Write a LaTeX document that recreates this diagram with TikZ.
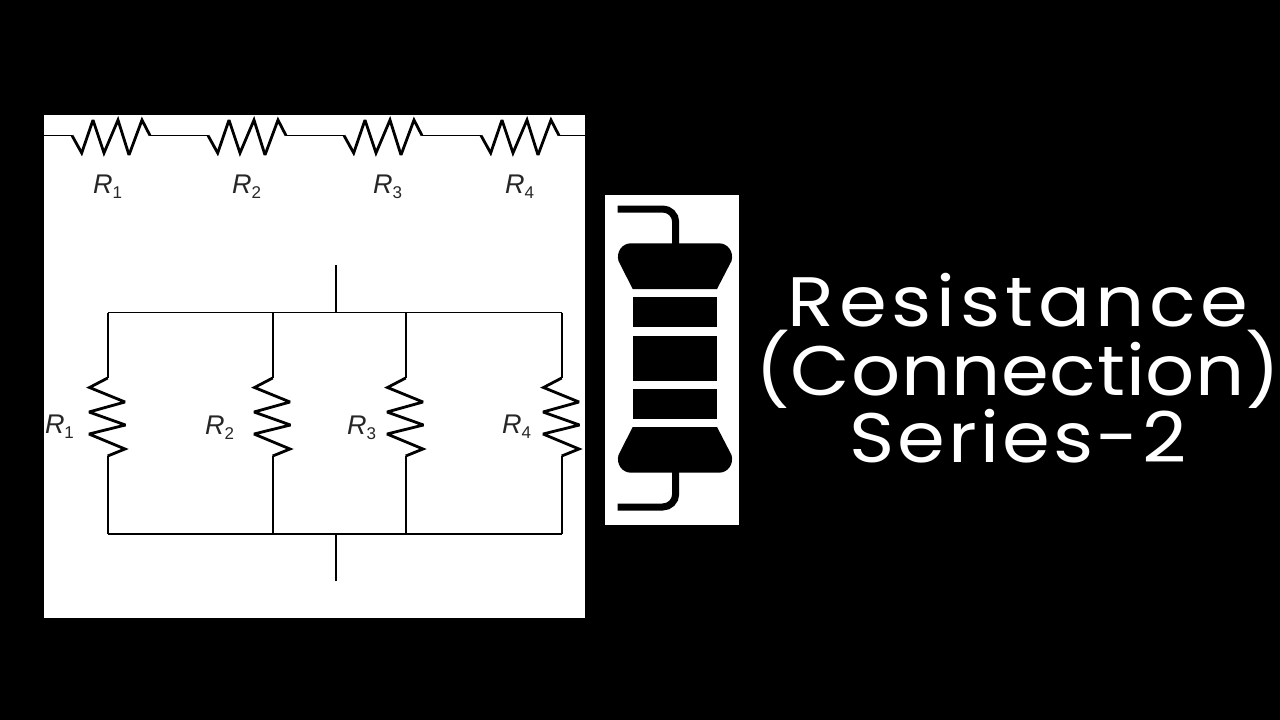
\documentclass[tikz,border=0pt]{standalone}
\usepackage{fontspec}
\setmainfont{Liberation Sans}
\newfontfamily\titlefontA[LetterSpace=6.2]{Poppins}
\newfontfamily\titlefontB[LetterSpace=1]{Poppins}
\newfontfamily\titlefontC[LetterSpace=4]{Poppins}
\tikzset{
  wire/.style={draw=black,line width=1.6pt,line cap=butt},
  zig/.style={draw=black,line width=2.8pt,line join=miter,miter limit=3},
  lbl/.style={anchor=base west,inner sep=0pt,outer sep=0pt,text=black!85,font=\fontsize{27}{27}\selectfont\itshape},
  ttl/.style={anchor=base,inner sep=0pt,outer sep=0pt,text=white},
  iconpart/.style={fill=black,draw=none}
}
\newcommand{\subs}[1]{\raisebox{-5pt}{\fontsize{17}{17}\selectfont\upshape #1}}
% horizontal zigzag, shift #1 in x, ends named #2a, #2b
\newcommand{\hzig}[2]{%
  \begin{scope}[shift={(#1,0)}]
    \coordinate (#2a) at (72,135.5);
    \coordinate (#2b) at (150,135.5);
    \draw[zig] (#2a) -- (81.7,153) -- (93,120) -- (104,153) -- (118,120) -- (129,155) -- (142,120) -- (#2b);
  \end{scope}}
% vertical zigzag, shift #1 in x, ends named #2a, #2b
\newcommand{\vzig}[2]{%
  \begin{scope}[shift={(#1,0)}]
    \coordinate (#2a) at (107.7,378);
    \coordinate (#2b) at (107.7,456);
    \draw[zig] (#2a) -- (89.5,387.5) -- (125,402) -- (89,412) -- (125.5,425) -- (89,434) -- (125,449) -- (#2b);
  \end{scope}}
\begin{document}
\begin{tikzpicture}[x=1pt,y=-1pt]
\useasboundingbox (0,0) rectangle (1280,720);
\fill[black] (0,0) rectangle (1280,720);
\fill[white] (44,115) rectangle (585,618);
\fill[white] (605,195) rectangle (739,525);

% series row
\coordinate (sl) at (44,135.5);
\coordinate (sr) at (585,135.5);
\hzig{0}{h1}
\hzig{136}{h2}
\hzig{272}{h3}
\hzig{409}{h4}
\draw[wire] (sl) -- (h1a) (h1b) -- (h2a) (h2b) -- (h3a) (h3b) -- (h4a) (h4b) -- (sr);
\node[lbl] (lh1) at (93,193) {R\subs{1}};
\node[lbl] (lh2) at (232,193) {R\subs{2}};
\node[lbl] (lh3) at (373,193) {R\subs{3}};
\node[lbl] (lh4) at (505,193) {R\subs{4}};

% parallel network
\coordinate (t0) at (107.7,312.5);
\coordinate (t1) at (272.7,312.5);
\coordinate (t2) at (405.7,312.5);
\coordinate (t3) at (561.7,312.5);
\coordinate (b0) at (107.7,534);
\coordinate (b1) at (272.7,534);
\coordinate (b2) at (405.7,534);
\coordinate (b3) at (561.7,534);
\coordinate (st) at (336,265);
\coordinate (sb) at (336,581);
\coordinate (jt) at (336,312.5);
\coordinate (jb) at (336,534);
\vzig{0}{v1}
\vzig{165}{v2}
\vzig{298}{v3}
\vzig{454}{v4}
\draw[wire] (t0) -- (t3) (b0) -- (b3) (st) -- (jt) (sb) -- (jb);
\draw[wire] (t0) -- (v1a) (v1b) -- (b0);
\draw[wire] (t1) -- (v2a) (v2b) -- (b1);
\draw[wire] (t2) -- (v3a) (v3b) -- (b2);
\draw[wire] (t3) -- (v4a) (v4b) -- (b3);
\node[lbl] (lv1) at (45,433) {R\subs{1}};
\node[lbl] (lv2) at (205,434) {R\subs{2}};
\node[lbl] (lv3) at (347,434) {R\subs{3}};
\node[lbl] (lv4) at (502,433) {R\subs{4}};

% resistor icon
\draw[line width=7pt,line cap=butt,rounded corners=13pt] (617.7,209) -- (675.7,209) -- (675.7,245);
\draw[line width=7pt,line cap=butt,rounded corners=13pt] (617.7,507) -- (675.7,507) -- (675.7,471);
\path[iconpart] (632.7,289) -- (618.5,261) .. controls (616,252) and (622,243.3) .. (631,243.3) -- (719,243.3) .. controls (728,243.3) and (734,252) .. (731.5,261) -- (717,289) -- cycle;
\path[iconpart] (632.7,427) -- (618.5,455) .. controls (616,464) and (622,472.7) .. (631,472.7) -- (719,472.7) .. controls (728,472.7) and (734,464) .. (731.5,455) -- (717,427) -- cycle;
\fill[black] (633,297) rectangle (717,327);
\fill[black] (633,335.7) rectangle (717,380.7);
\fill[black] (633,389) rectangle (717,419);

% title
\node[ttl,font=\titlefontA\fontsize{70}{70}\selectfont] (t1txt) at (1018,326) {\scalebox{1.1}[1]{Resistance}};
\node[ttl,font=\titlefontB\fontsize{70}{70}\selectfont] (t2txt) at (1018,395) {\scalebox{1.1}[1]{(Connection)}};
\node[ttl,font=\titlefontC\fontsize{70}{70}\selectfont] (t3txt) at (1018,462) {\scalebox{1.1}[1]{Series-2}};
\end{tikzpicture}
\end{document}
